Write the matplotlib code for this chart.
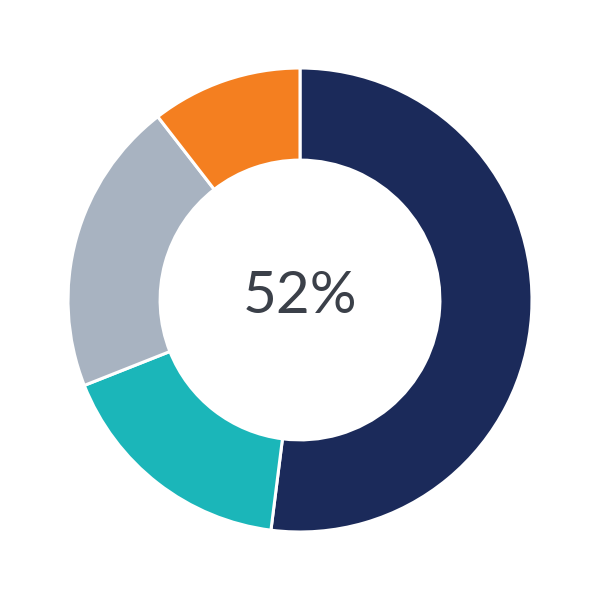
import matplotlib
matplotlib.use("Agg")
import matplotlib.pyplot as plt

labels = ["Navy", "Teal", "Gray", "Orange"]
values = [52, 17, 20.5, 10.5]
colors = ["#1b2a5a", "#1bb6b9", "#a8b3c1", "#f47f20"]
center_text = "52%"

fig = plt.figure(figsize=(6, 6), dpi=100)
ax = fig.add_axes([0, 0, 1, 1])

ax.pie(values, colors=colors, startangle=90, counterclock=False,
       radius=1.0,
       wedgeprops=dict(width=0.397, edgecolor="white", linewidth=2.2))

ax.text(0, 0.015, center_text, ha="center", va="center", fontsize=42,
        color="#3b4049", family=["Lato", "DejaVu Sans"], fontweight="normal")

lim = 300 / 232
ax.set_xlim(-lim, lim)
ax.set_ylim(-lim, lim)
ax.set_aspect("equal")
ax.axis("off")

fig.savefig("out.png", dpi=100, facecolor="white")
